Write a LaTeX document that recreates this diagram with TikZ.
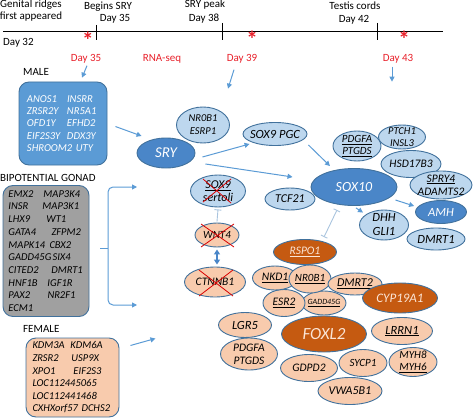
\documentclass[tikz,border=0pt]{standalone}
\usepackage{fontspec}
\usepackage{graphicx}
\setmainfont{Carlito}
\usetikzlibrary{shapes.geometric,arrows.meta,calc}
\definecolor{skyb}{HTML}{5B9BD5}
\definecolor{darkb}{HTML}{4A86C8}
\definecolor{lightb}{HTML}{BDD7EE}
\definecolor{edgeb}{HTML}{41719C}
\definecolor{peach}{HTML}{F8CBAD}
\definecolor{rust}{HTML}{C55A11}
\definecolor{grayf}{HTML}{A0A0A0}
\definecolor{redt}{HTML}{E8202A}
\definecolor{inhc}{HTML}{A9C4DE}
\definecolor{peachtxt}{HTML}{FBE5D6}
\newcommand{\astk}{\raisebox{-6.2pt}[3pt][0pt]{\scalebox{1.65}{*}}}
\tikzset{
  ell/.style={ellipse, draw=edgeb, line width=0.9pt, inner sep=-3pt, align=center},
  lb/.style={ell, fill=lightb, text=black},
  db/.style={ell, fill=darkb, text=white},
  pe/.style={ell, fill=peach, text=black},
  ru/.style={ell, fill=rust, text=peachtxt},
  sz/.style 2 args={minimum width=#1pt, minimum height=#2pt},
  fsz/.style={font=\itshape\fontsize{#1}{13}\selectfont},
  fszb/.style 2 args={font=\itshape\fontsize{#1}{#2}\selectfont},
  arr/.style={draw=skyb, line width=1pt, -{Triangle[length=5pt,width=5pt]}},
  inh/.style={draw=inhc, line width=0.9pt},
  xl/.style={draw=red!85!black, line width=0.8pt},
  lbl/.style={font=\fontsize{11}{12}\selectfont, align=center, inner sep=0pt},
  rlbl/.style={font=\fontsize{11}{12}\selectfont, text=redt, inner sep=0pt},
  ast/.style={font=\bfseries\fontsize{14}{14}\selectfont, text=redt, inner sep=0pt},
  gbox/.style={rectangle, rounded corners=10pt, draw=edgeb, line width=0.9pt, inner sep=0pt, align=left},
}
\begin{document}
\begin{tikzpicture}[x=1pt,y=-1pt]
\useasboundingbox (0,0) rectangle (474,420);
% timeline
\draw[line width=1pt] (3,32) -- (443,32);
\draw[line width=1pt] (96,25) -- (96,40);
\draw[line width=1pt] (222,23) -- (222,40);
\draw[line width=1pt] (377,23) -- (377,40);
\node[lbl] (t1) at (31,11) {Genital ridges\\first appeared};
\node[lbl] (t2) at (108,7) {Begins SRY};
\node[lbl] (t3) at (115,19) {Day 35};
\node[lbl] (t4) at (205,5) {SRY peak};
\node[lbl] (t5) at (204,19) {Day 38};
\node[lbl] (t6) at (355,6) {Testis cords};
\node[lbl] (t7) at (354,20) {Day 42};
\node[lbl, anchor=west] (t8) at (3,43) {Day 32};
\node[ast] (a1) at (88,41) {\astk};
\node[ast] (a2) at (252,40) {\astk};
\node[ast] (a3) at (404,40) {\astk};
\node[rlbl] (d35) at (86,59) {Day 35};
\node[rlbl] (rna) at (162,59) {RNA-seq};
\node[rlbl] (d39) at (242,59) {Day 39};
\node[rlbl] (d43) at (398,59) {Day 43};
\draw[arr] ($(d35.south)+(1,2)$) -- ($(d35.south)+(-4,14)$);
\draw[arr] ($(d39.south)+(-8,6)$) -- ($(d39.south)+(-14,25)$);
\draw[arr] ($(d43.south)+(-6,3)$) -- ($(d43.south)+(-6,18)$);
% group labels
\node[lbl, anchor=west] (lm) at (23,72) {MALE};
\node[lbl, anchor=west] (lg) at (0,178) {BIPOTENTIAL GONAD};
\node[lbl, anchor=west] (lf) at (23,329) {FEMALE};
% male box
\node[gbox, fill=skyb, text=white, minimum width=88pt, minimum height=83pt, text width=72pt,
      font=\itshape\fontsize{10.6}{12.4}\selectfont] (male) at (63,123.5)
  {\makebox[40pt][l]{ANOS1}INSRR\\\makebox[40pt][l]{ZRSR2Y}NR5A1\\\makebox[40pt][l]{OFD1Y}EFHD2\\\makebox[40pt][l]{EIF2S3Y}DDX3Y\\SHROOM2 UTY};
% gray box
\node[gbox, fill=grayf, text=black, minimum width=86pt, minimum height=131pt, text width=75pt,
      font=\itshape\fontsize{10.5}{12.7}\selectfont] (gray) at (46,251)
  {\makebox[35pt][l]{EMX2}MAP3K4\\\makebox[34pt][l]{INSR}MAP3K1\\\makebox[38pt][l]{LHX9}WT1\\\makebox[43pt][l]{GATA4}ZFPM2\\\makebox[41pt][l]{MAPK14}CBX2\\\makebox[44pt][l]{GADD45G}SIX4\\\makebox[43pt][l]{CITED2}DMRT1\\\makebox[39pt][l]{HNF1B}IGF1R\\\makebox[39pt][l]{PAX2}NR2F1\\ECM1};
% female box
\node[gbox, fill=peach, text=black, minimum width=93pt, minimum height=79pt, text width=80pt,
      font=\itshape\fontsize{10.5}{12.6}\selectfont] (female) at (72.5,377.5)
  {\makebox[38pt][l]{KDM3A}KDM6A\\\makebox[39pt][l]{ZRSR2}USP9X\\\makebox[41pt][l]{XPO1}EIF2S3\\LOC112445065\\LOC112441468\\\mbox{CXHXorf57 DCHS2}};
% bracket
\draw[draw=skyb, line width=1pt, {Triangle[length=5pt,width=5pt]}-{Triangle[length=5pt,width=5pt]}, rounded corners=5pt]
  (137,187) -- (108,187) -- (108,305) -- (137,305);
\draw[draw=skyb, line width=1pt] ($(gray.east)+(11,-3)$) -- ($(gray.east)+(19,-3)$);
% blue ellipses
\node[lb, sz={53}{36}, fsz=10.5] (nrob) at (203,125) {NR0B1\\ESRP1};
\node[db, sz={58}{30}, fsz=15] (sry) at (166,153) {SRY};
\node[lb, sz={64}{23}, fsz=12.5] (sox9pgc) at (275,134) {SOX9 PGC};
\node[lb, sz={55}{32}, fszb={12}{13}] (sox9s) at (218,191) {\underline{SOX9}\\sertoli};
\node[lb, sz={50}{22}, fsz=12] (tcf) at (290,199) {TCF21};
\node[lb, sz={48}{30}, fszb={11}{12}] (pdgb) at (357,146) {\underline{PDGFA}\\\underline{PTGDS}};
\node[lb, sz={47}{24}, fszb={10.5}{12.5}] (ptch) at (402,137) {PTCH1\\INSL3};
\node[lb, sz={60}{27}, fsz=11.5] (hsd) at (411,164) {HSD17B3};
\node[lb, sz={62}{28}, fszb={11.5}{13}] (spry) at (441,185) {\underline{SPRY4}\\ADAMTS2};
\node[db, sz={86}{37}, fsz=14] (sox10) at (354,187) {SOX10};
\node[db, sz={51}{23}, fsz=12.5] (amh) at (441,212) {AMH};
\node[lb, sz={49}{30}, fszb={12.5}{14}] (dhh) at (384,225) {DHH\\GLI1};
\node[lb, sz={58}{22}, fsz=12.5] (dmrt1) at (436,239) {DMRT1};
% peach ellipses
\node[pe, sz={44}{24}, fsz=11] (wnt4) at (217,235) {WNT4};
\node[pe, sz={61}{30}, fsz=11.5] (ctnnb1) at (215,282) {CTNNB1};
\node[ru, sz={63}{25}, fsz=11.5] (rspo1) at (305,252) {\underline{RSPO1}};
\node[pe, sz={44}{24}, fsz=8] (gadd) at (324,303) {\underline{GADD45G}};
\node[pe, sz={42}{27}, fsz=11.5] (esr2) at (284,303) {\underline{ESR2}};
\node[pe, sz={45}{24}, fsz=11.5] (nkd1) at (275,278) {\underline{NKD1}};
\node[pe, sz={42}{28}, fsz=11] (nr0b1f) at (310,279) {\underline{NR0B1}};
\node[pe, sz={54}{22}, fsz=12] (dmrt2) at (355,284) {\underline{DMRT2}};
\node[ru, sz={75}{30}, fsz=13] (cyp) at (400,298) {CYP19A1};
\node[ru, sz={85}{36}, fsz=17] (foxl2) at (324,334) {FOXL2};
\node[pe, sz={61}{27}, fsz=12.5] (lrrn1) at (402,331) {\underline{LRRN1}};
\node[pe, sz={53}{25}, fsz=12.5] (lgr5) at (245,325) {LGR5};
\node[pe, sz={57}{32}, fszb={11.5}{13}] (pdgp) at (249,354) {PDGFA\\PTGDS};
\node[pe, sz={57}{27}, fsz=11.5] (gdpd) at (309,368) {GDPD2};
\node[pe, sz={48}{27}, fsz=11] (sycp) at (363,363) {SYCP1};
\node[pe, sz={48}{29}, fszb={11}{12}] (myh) at (413,362) {MYH8\\\underline{MYH6}};
\node[pe, sz={64}{27}, fsz=12] (vwa) at (350,391) {VWA5B1};
% crosses
\draw[xl] ($(sox9s.center)+(-15,-12)$) -- ($(sox9s.center)+(13,12)$);
\draw[xl] ($(sox9s.center)+(-15,11)$) -- ($(sox9s.center)+(13,-12)$);
\draw[xl] ($(wnt4.center)+(-16,-11)$) -- ($(wnt4.center)+(17,12)$);
\draw[xl] ($(wnt4.center)+(-16,12)$) -- ($(wnt4.center)+(17,-11)$);
\draw[xl] ($(ctnnb1.center)+(-16,-12)$) -- ($(ctnnb1.center)+(18,14)$);
\draw[xl] ($(ctnnb1.center)+(-16,14)$) -- ($(ctnnb1.center)+(18,-12)$);
% arrows
\draw[arr] ($(male.east)+(8,3)$) -- ($(sry.west)+(5,-17)$);
\draw[arr] ($(female.east)+(11,-32)$) -- ($(female.east)+(36,-39)$);
\draw[arr] ($(sry.east)+(7,4)$) -- ($(sox9pgc.west)+(7,10)$);
\draw[arr] ($(sry.east)+(10,11)$) -- ($(sox10.west)+(-18,-10)$);
\draw[arr] ($(sox9pgc.east)+(1,11)$) -- ($(sox10.north)+(-24,-2)$);
\draw[arr] ($(sox10.south)+(2,2)$) -- ($(dhh.north)+(-21,3)$);
\draw[arr] ($(sox10.east)+(-2,13)$) -- ($(amh.west)+(-1,-6)$);
\draw[draw=darkb, line width=1.5pt, {Triangle[length=5pt,width=6pt]}-{Triangle[length=5pt,width=6pt]}] ($(wnt4.south)+(0,2)$) -- ($(ctnnb1.north)+(2,-2)$);
% inhibitions
\draw[inh, -{Bar[width=7pt]}] ($(wnt4.north)+(0,-1)$) -- ($(sox9s.south)+(0,2)$);
\draw[inh, {Bar[width=7pt]}-{Bar[width=7pt]}] ($(rspo1.north)+(19,-2)$) -- ($(sox10.south)+(-17,4)$);
\end{tikzpicture}
\end{document}
